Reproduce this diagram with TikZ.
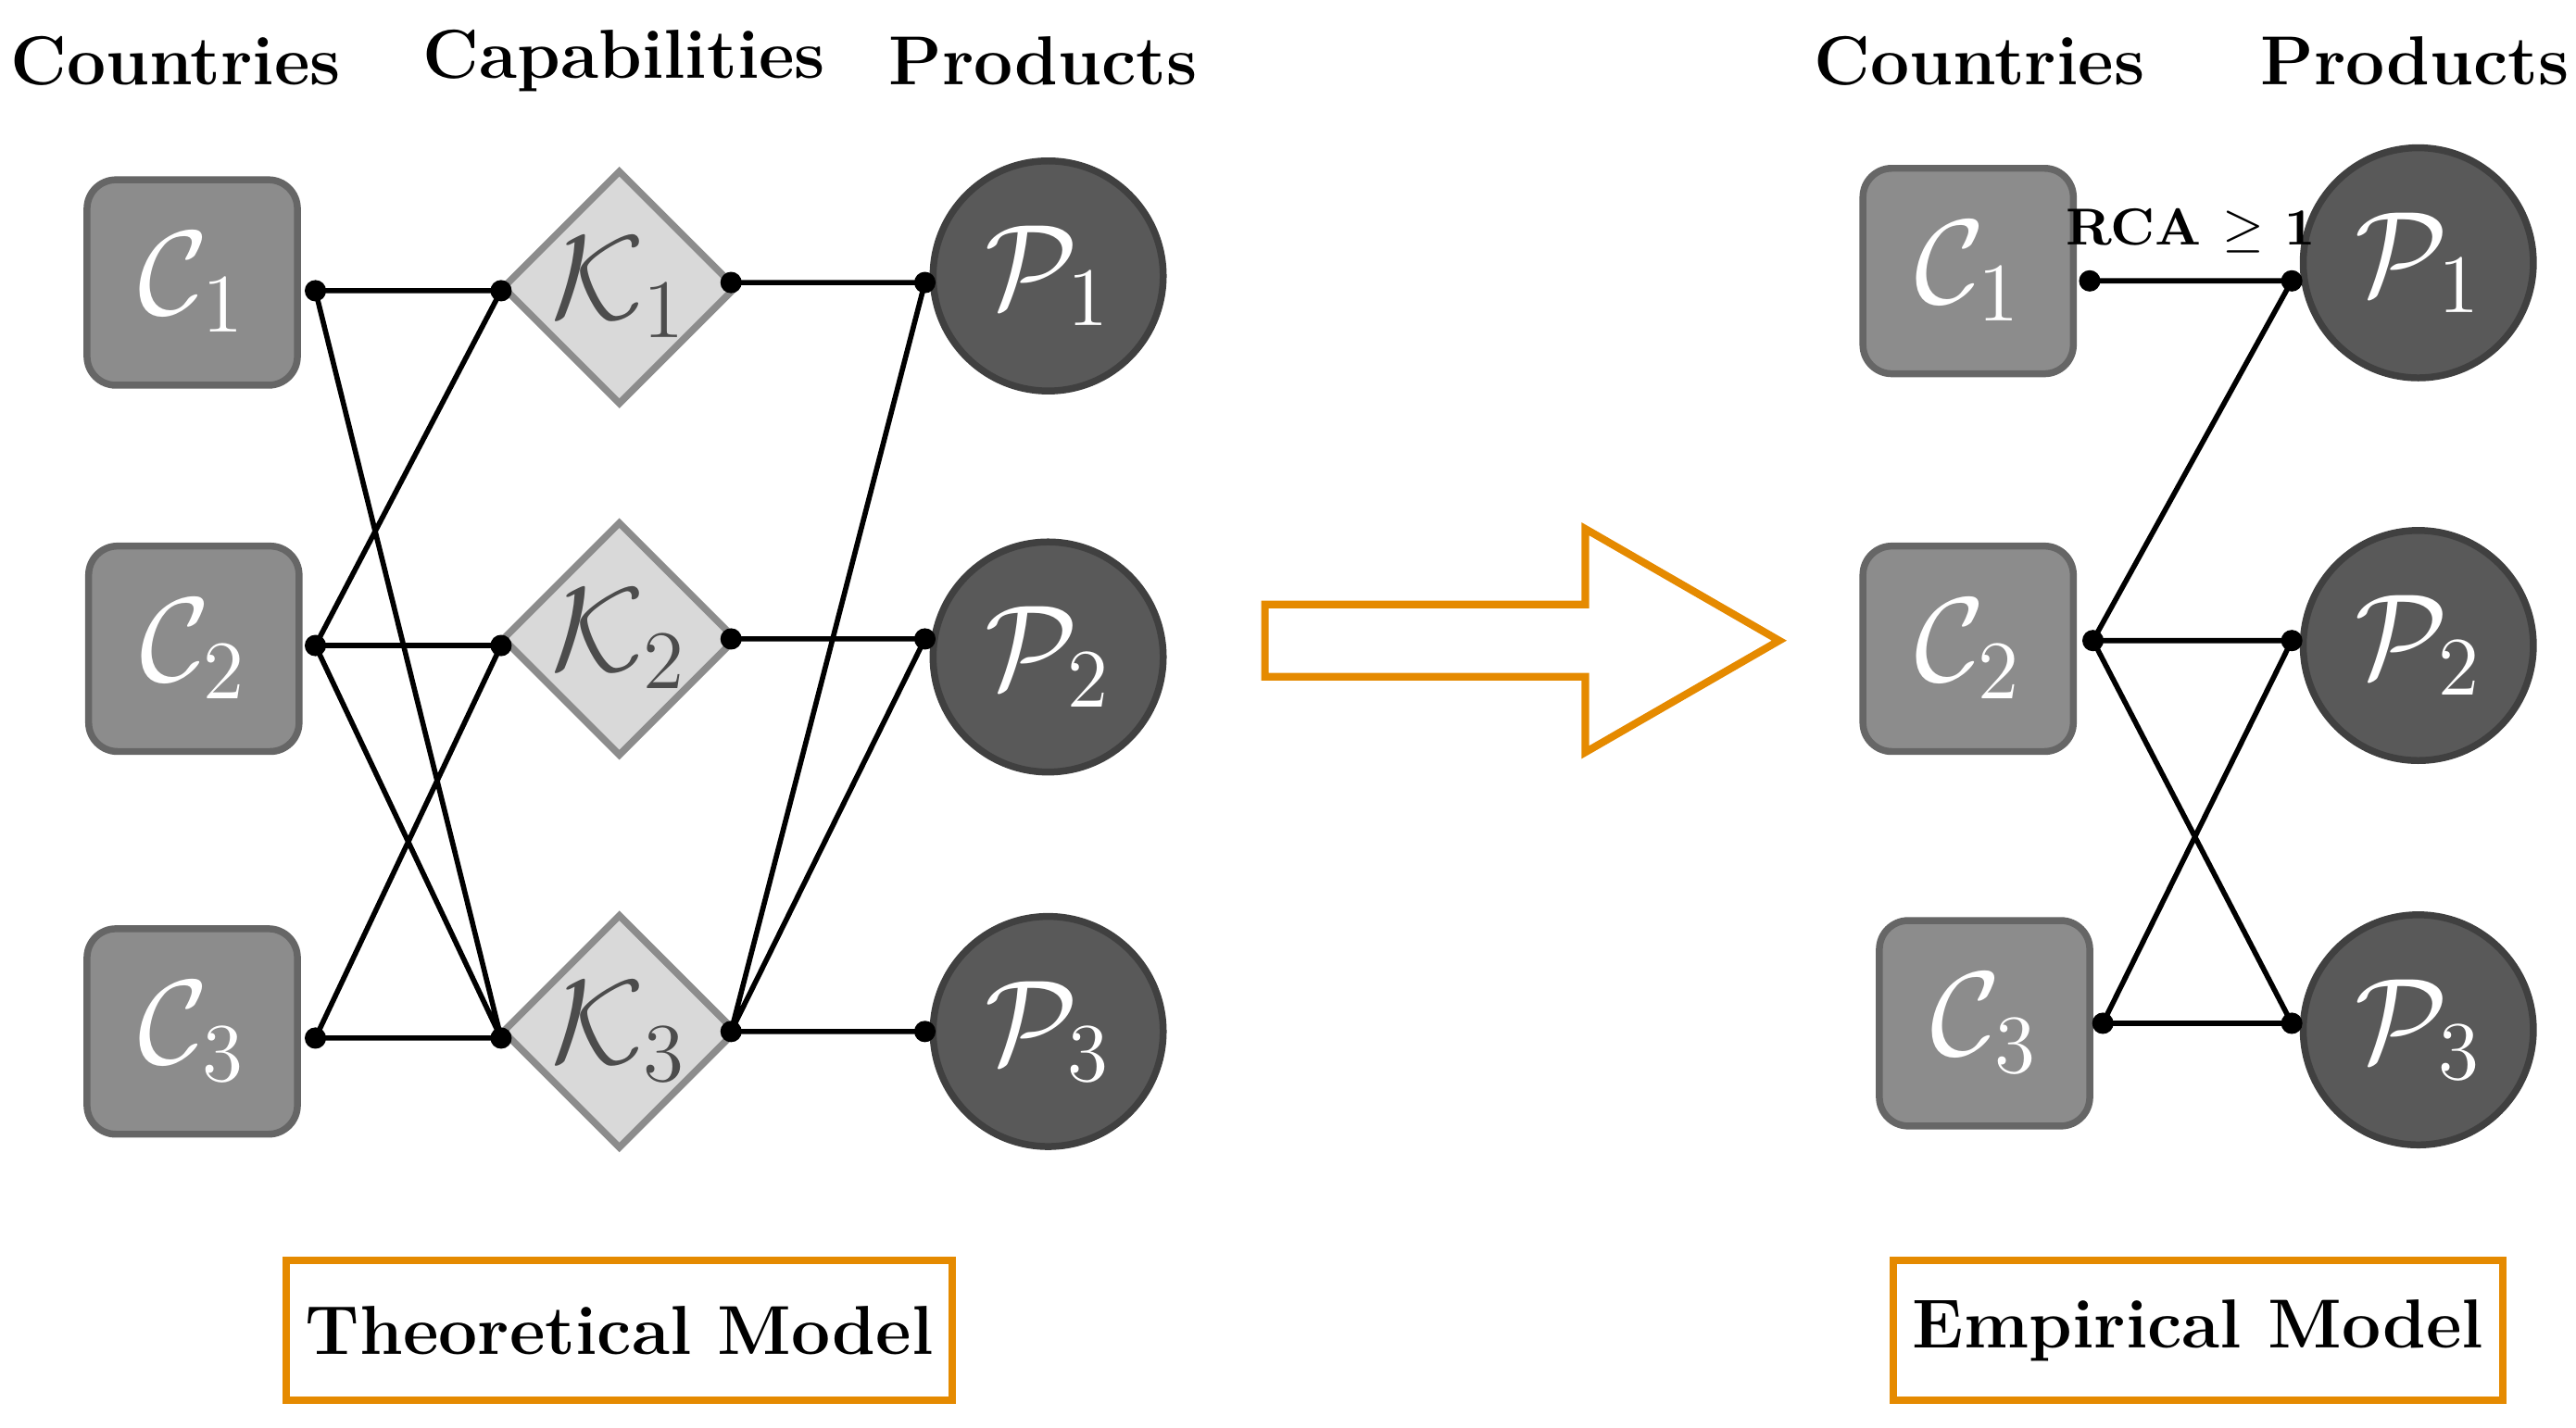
\documentclass[tikz,border=0pt]{standalone}
\usetikzlibrary{shapes.geometric}
\begin{document}
\begin{tikzpicture}[x=0.01cm,y=-0.01cm,
 cbox/.style={draw=black!60,fill=black!45,line width=1.2pt,rounded corners=5pt,minimum width=1.28cm,minimum height=1.25cm,text=white,font=\fontsize{20}{22}\selectfont},
 kd/.style={diamond,draw=black!45,fill=black!15,line width=1.2pt,minimum width=1.36cm,minimum height=1.36cm,inner sep=0pt,text=black!70,font=\fontsize{20}{22}\selectfont},
 pc/.style={circle,draw=black!75,fill=black!65,line width=1.2pt,minimum size=1.4cm,text=white,font=\fontsize{20}{22}\selectfont},
 hd/.style={font=\fontsize{12}{14}\selectfont\bfseries},
 dot/.style={circle,fill=black,inner sep=0pt,minimum size=0.13cm},
 ed/.style={line width=0.9pt},
 ob/.style={draw=orange!80!yellow!90!black,line width=1.3pt}]
\useasboundingbox (0,0) rectangle (1568,869);
% headers
\node[hd] (h1) at (107,37) {Countries};
\node[hd] (h2) at (380,37) {Capabilities};
\node[hd] (h3) at (635,37) {Products};
\node[hd] (h4) at (1205,37) {Countries};
\node[hd] (h5) at (1470,37) {Products};
% left nodes
\node[cbox] (C1) at (117,172) {$\mathcal{C}_1$};
\node[cbox] (C2) at (118,395) {$\mathcal{C}_2$};
\node[cbox] (C3) at (117,628) {$\mathcal{C}_3$};
\node[kd] (K1) at (377,175) {$\mathcal{K}_1$};
\node[kd] (K2) at (377,389) {$\mathcal{K}_2$};
\node[kd] (K3) at (377,628) {$\mathcal{K}_3$};
\node[pc] (P1) at (638,168) {$\mathcal{P}_1$};
\node[pc] (P2) at (638,400) {$\mathcal{P}_2$};
\node[pc] (P3) at (638,628) {$\mathcal{P}_3$};
\node[dot] (c1) at (192,177) {};
\node[dot] (c2) at (192,393) {};
\node[dot] (c3) at (192,632) {};
\node[dot] (kl1) at (305,177) {};
\node[dot] (kl2) at (305,393) {};
\node[dot] (kl3) at (305,632) {};
\node[dot] (kr1) at (445,172) {};
\node[dot] (kr2) at (445,389) {};
\node[dot] (kr3) at (445,628) {};
\node[dot] (p1) at (563,172) {};
\node[dot] (p2) at (563,389) {};
\node[dot] (p3) at (563,628) {};
\draw[ed] (c1.center)--(kl1.center) (c1.center)--(kl3.center)
 (c2.center)--(kl1.center) (c2.center)--(kl2.center) (c2.center)--(kl3.center)
 (c3.center)--(kl2.center) (c3.center)--(kl3.center)
 (kr1.center)--(p1.center) (kr2.center)--(p2.center)
 (kr3.center)--(p1.center) (kr3.center)--(p2.center) (kr3.center)--(p3.center);
% arrow
\draw[ob] (770,368)--(965,368)--(965,322)--(1083,390)--(965,458)--(965,412)--(770,412)--cycle;
% right nodes
\node[cbox] (D1) at (1198,165) {$\mathcal{C}_1$};
\node[cbox] (D2) at (1198,395) {$\mathcal{C}_2$};
\node[cbox] (D3) at (1208,623) {$\mathcal{C}_3$};
\node[pc] (Q1) at (1472,160) {$\mathcal{P}_1$};
\node[pc] (Q2) at (1472,393) {$\mathcal{P}_2$};
\node[pc] (Q3) at (1472,627) {$\mathcal{P}_3$};
\node[dot] (d1) at (1272,171) {};
\node[dot] (d2) at (1274,390) {};
\node[dot] (d3) at (1280,623) {};
\node[dot] (q1) at (1395,171) {};
\node[dot] (q2) at (1395,390) {};
\node[dot] (q3) at (1395,623) {};
\draw[ed] (d1.center)--node[above=1pt,font=\fontsize{9}{10}\selectfont\bfseries]{RCA $\geq$ 1}(q1.center)
 (d2.center)--(q1.center) (d2.center)--(q2.center) (d2.center)--(q3.center)
 (d3.center)--(q2.center) (d3.center)--(q3.center);
% model boxes
\node[ob,minimum width=3.75cm,minimum height=0.85cm,hd] (tm) at (377,810) {Theoretical Model};
\node[ob,minimum width=3.6cm,minimum height=0.85cm,hd] (em) at (1338,810) {Empirical Model};
\end{tikzpicture}
\end{document}
